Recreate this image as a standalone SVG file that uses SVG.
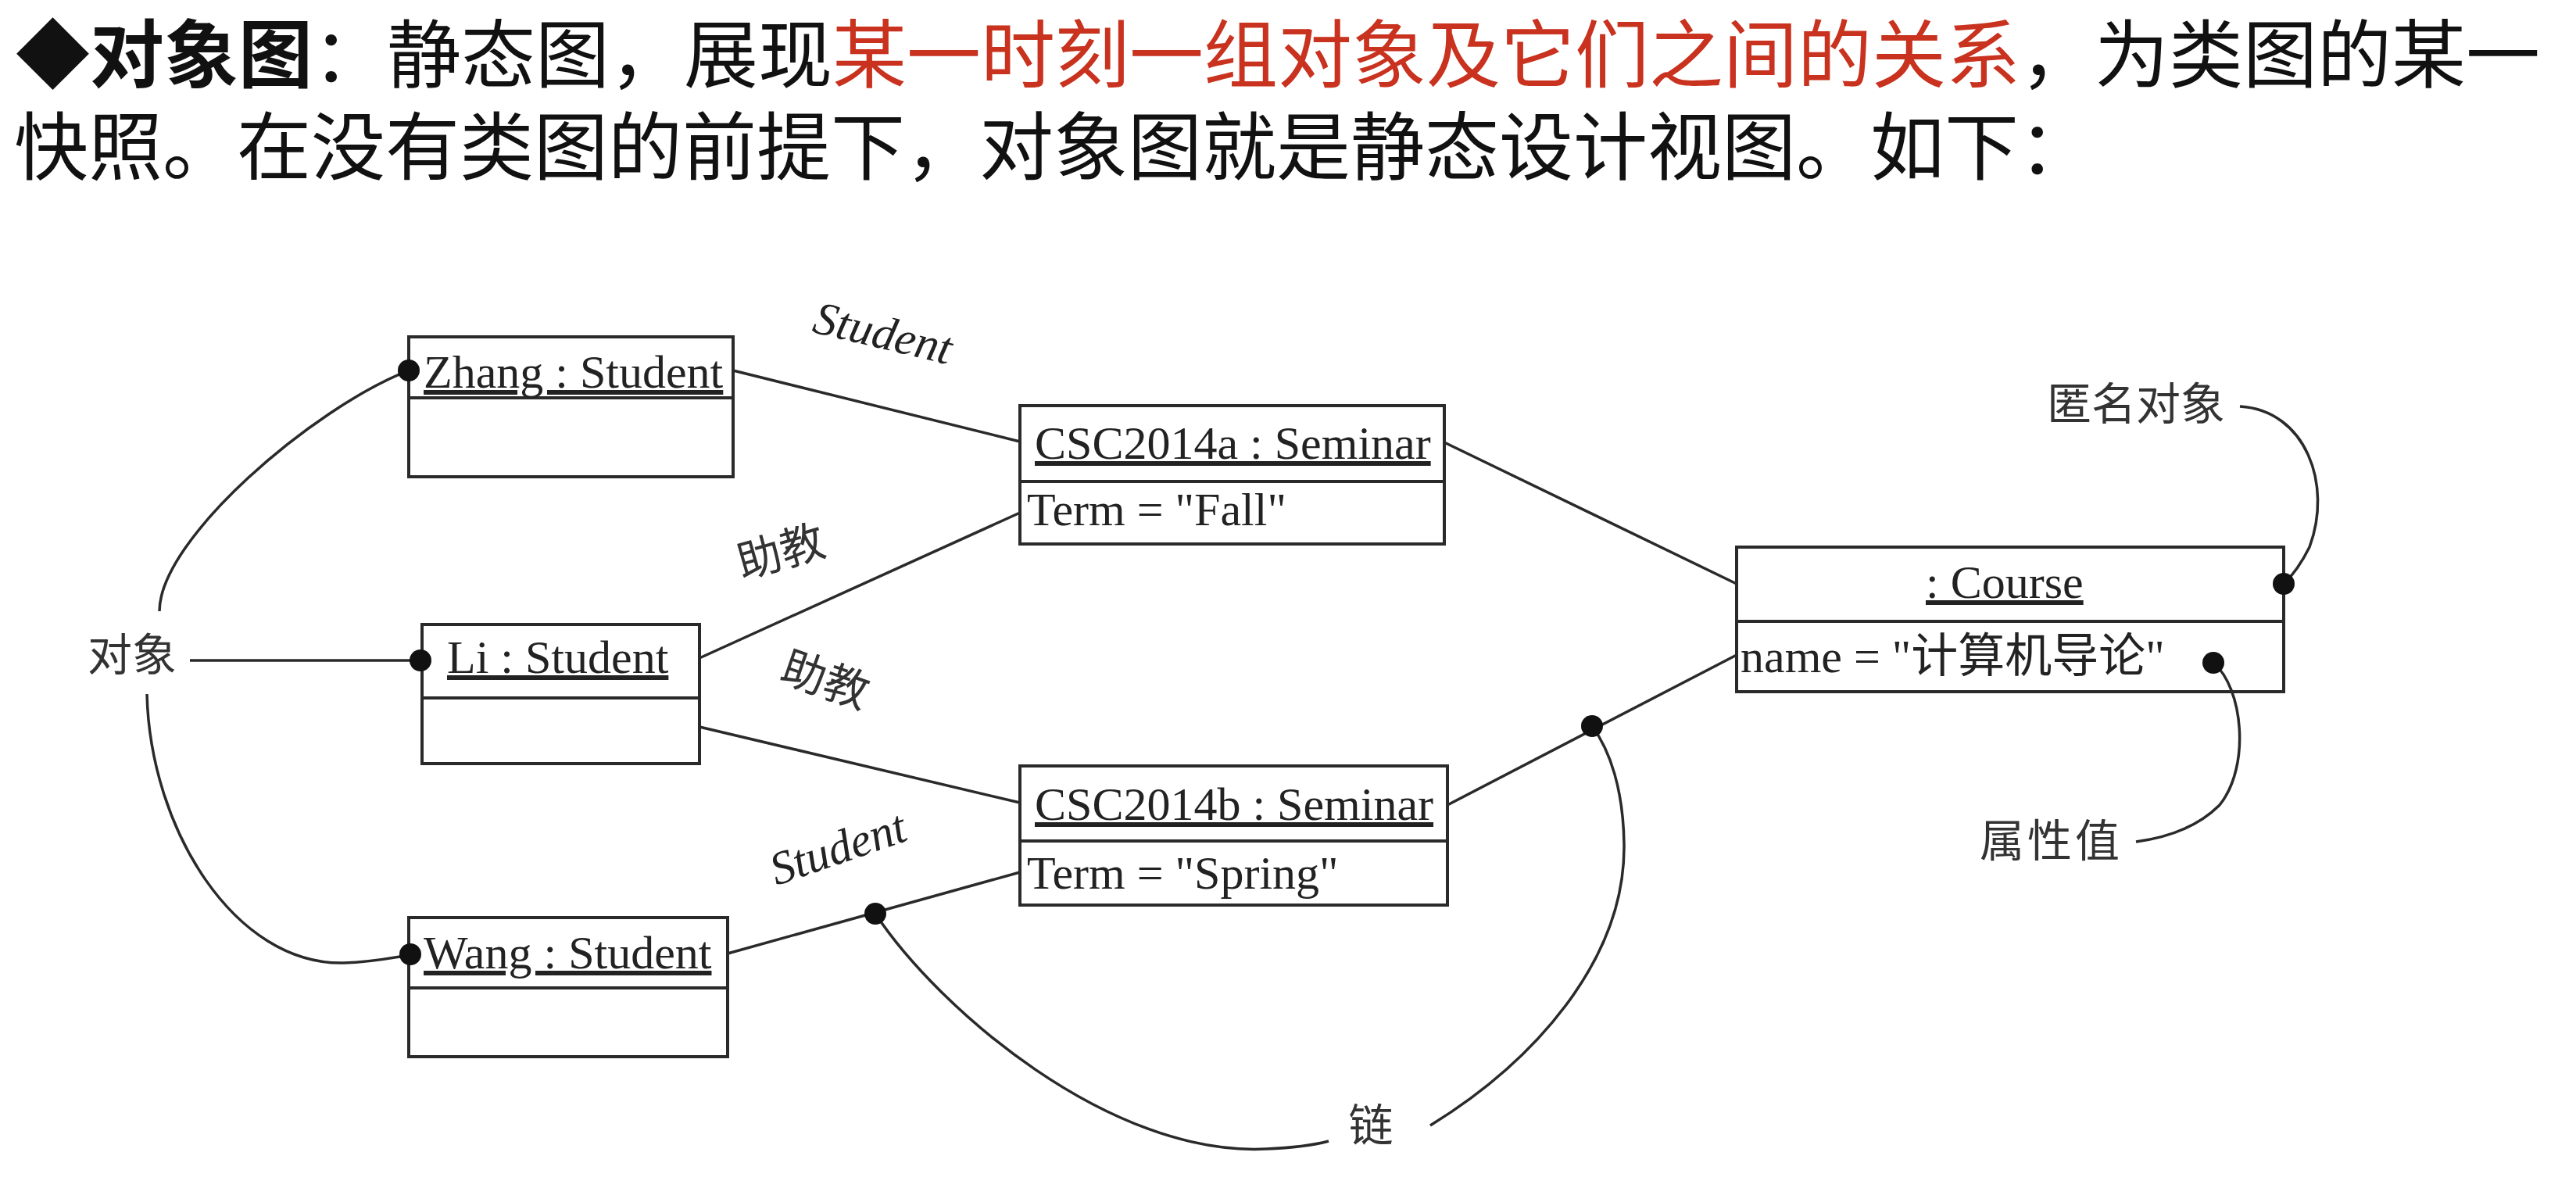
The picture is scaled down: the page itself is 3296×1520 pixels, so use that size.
<svg xmlns="http://www.w3.org/2000/svg" width="3296" height="1520" viewBox="0 0 3296 1520">
<style>
.title{font-family:"Noto Sans CJK SC","Noto Sans",sans-serif;font-size:95px;fill:#111}
.b{font-weight:bold}
.red{fill:#c8321e}
.box{fill:#fff;stroke:#2a2a2a;stroke-width:4}
.div{stroke:#2a2a2a;stroke-width:4}
.t{font-family:"Liberation Serif","Noto Sans CJK SC",serif;font-size:60px;fill:#222}
.u{text-decoration:underline}
.lbl{font-family:"Noto Sans CJK SC",sans-serif;font-size:57px;fill:#333}
.it{font-family:"Liberation Serif",serif;font-style:italic;font-size:60px;fill:#222}
.ln{fill:none;stroke:#2a2a2a;stroke-width:3.5}
.dot{fill:#111}
</style>
<rect width="3296" height="1520" fill="#fff"/>
<g id="title">
<text class="title" x="20" y="105"><tspan class="b">◆对象图</tspan>：静态图，展现<tspan class="red">某一时刻一组对象及它们之间的关系</tspan>，为类图的某一<tspan x="18" y="223">快照。在没有类图的前提下，对象图就是静态设计视图。如下：</tspan></text>
</g>
<g id="connectors">
<line class="ln" x1="938" y1="474" x2="1305" y2="565"/>
<line class="ln" x1="895" y1="842" x2="1305" y2="656"/>
<line class="ln" x1="895" y1="930" x2="1305" y2="1027"/>
<line class="ln" x1="931" y1="1220" x2="1305" y2="1116"/>
<line class="ln" x1="1848" y1="566" x2="2222" y2="747"/>
<line class="ln" x1="1852" y1="1030" x2="2222" y2="838"/>
</g>
<g id="zhang">
<rect class="box" x="523" y="431" width="415" height="179"/>
<line class="div" x1="523" y1="509" x2="938" y2="509"/>
<text class="t u" x="542" y="496">Zhang : Student</text>
</g>
<g id="li">
<rect class="box" x="540" y="799" width="355" height="178"/>
<line class="div" x1="540" y1="893" x2="895" y2="893"/>
<text class="t u" x="572" y="861">Li : Student</text>
</g>
<g id="wang">
<rect class="box" x="523" y="1174" width="408" height="178"/>
<line class="div" x1="523" y1="1264" x2="931" y2="1264"/>
<text class="t u" x="542" y="1239">Wang : Student</text>
</g>
<g id="csc2014a">
<rect class="box" x="1305" y="519" width="543" height="177"/>
<line class="div" x1="1305" y1="616" x2="1848" y2="616"/>
<text class="t u" x="1324" y="587">CSC2014a : Seminar</text>
<text class="t" x="1314" y="672">Term = "Fall"</text>
</g>
<g id="csc2014b">
<rect class="box" x="1305" y="980" width="547" height="178"/>
<line class="div" x1="1305" y1="1076" x2="1852" y2="1076"/>
<text class="t u" x="1324" y="1049">CSC2014b : Seminar</text>
<text class="t" x="1314" y="1137">Term = "Spring"</text>
</g>
<g id="course">
<rect class="box" x="2222" y="700" width="700" height="185"/>
<line class="div" x1="2222" y1="795" x2="2922" y2="795"/>
<text class="t u" x="2464" y="765">: Course</text>
<text class="t" x="2227" y="860">name = "计算机导论"</text>
</g>
<g id="link-labels">
<text class="it" text-anchor="middle" transform="translate(1130,426) rotate(13.5)" y="20">Student</text>
<text class="it" text-anchor="middle" transform="translate(1072,1085) rotate(-19)" y="20">Student</text>
<text class="lbl" text-anchor="middle" transform="translate(999,706) rotate(-16)" y="20">助教</text>
<text class="lbl" text-anchor="middle" transform="translate(1056,870) rotate(19)" y="20">助教</text>
</g>
<g id="annotations">
<text class="lbl" x="112" y="858">对象</text>
<path class="ln" d="M204,782 C204,690 400,522 523,474"/>
<line class="ln" x1="243" y1="845" x2="536" y2="845"/>
<path class="ln" d="M188,888 C192,1060 300,1235 440,1232 C475,1231 500,1226 523,1222"/>
<circle class="dot" cx="523" cy="474" r="14"/>
<circle class="dot" cx="538" cy="845" r="14"/>
<circle class="dot" cx="525" cy="1221" r="14"/>
<text class="lbl" text-anchor="middle" x="1754" y="1460">链</text>
<path class="ln" d="M1120,1169 C1200,1290 1420,1480 1620,1470 Q1670,1468 1700,1460"/>
<path class="ln" d="M1830,1440 C1960,1360 2080,1230 2078,1080 C2077,1010 2060,960 2037,929"/>
<circle class="dot" cx="1120" cy="1169" r="14"/>
<circle class="dot" cx="2037" cy="929" r="14"/>
<text class="lbl" x="2619" y="537">匿名对象</text>
<path class="ln" d="M2866,520 C2950,525 2985,620 2955,700 Q2940,730 2922,747"/>
<circle class="dot" cx="2922" cy="747" r="14"/>
<text class="lbl" x="2533" y="1096" font-size="60" letter-spacing="4">属性值</text>
<path class="ln" d="M2832,848 C2870,880 2880,980 2840,1030 C2810,1060 2770,1072 2733,1077"/>
<circle class="dot" cx="2832" cy="848" r="14"/>
</g>
</svg>
